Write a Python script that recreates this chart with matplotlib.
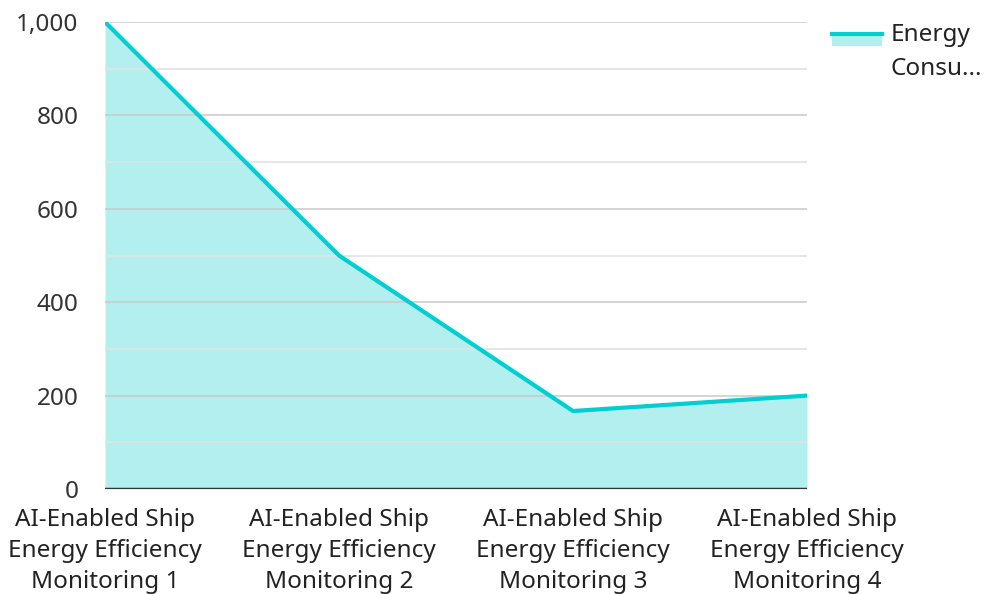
import matplotlib
matplotlib.use("Agg")
import matplotlib.pyplot as plt
from matplotlib.patches import Rectangle
from matplotlib.lines import Line2D

plt.rcParams['font.family'] = ['Noto Sans', 'Open Sans', 'DejaVu Sans']

categories = ["AI-Enabled Ship\nEnergy Efficiency\nMonitoring 1",
              "AI-Enabled Ship\nEnergy Efficiency\nMonitoring 2",
              "AI-Enabled Ship\nEnergy Efficiency\nMonitoring 3",
              "AI-Enabled Ship\nEnergy Efficiency\nMonitoring 4"]
energy = [1000, 500, 167, 200]
yticks = [0, 200, 400, 600, 800, 1000]
ytick_labels = ["0", "200", "400", "600", "800", "1,000"]

line_color = "#00CED1"
fill_color = "#B2EFEE"
FS = 17.5

W, H = 986, 594
fig = plt.figure(figsize=(W/100, H/100), dpi=100)
ax = fig.add_axes([105/W, 1-489/H, (807-105)/W, (489-22)/H])

x = list(range(len(categories)))
ax.fill_between(x, energy, 0, color=fill_color, lw=0, zorder=1)
ax.plot(x, energy, color=line_color, lw=3, zorder=3, solid_joinstyle='miter')

ax.set_xlim(0, len(categories)-1)
ax.set_ylim(0, 1000)
for v in range(100, 1001, 100):
    major = v % 200 == 0
    ax.axhline(v, color="#c8c8c8" if major else "#e2e2e2", lw=1.2, zorder=2, alpha=0.9 if major else 1)
ax.axhline(0, color="#333333", lw=2.5, zorder=4)

ax.set_yticks(yticks)
ax.set_yticklabels(ytick_labels, fontsize=FS, color="#333333")
ax.set_xticks(x)
ax.set_xticklabels(categories, fontsize=FS, color="#222222", linespacing=1.38)
ax.tick_params(axis='y', length=0, pad=19)
ax.tick_params(axis='x', length=0, pad=14)
for s in ax.spines.values():
    s.set_visible(False)

# legend
fig.add_artist(Rectangle((832/W, 1-46/H), 50/W, 13/H, transform=fig.transFigure,
                         facecolor=fill_color, edgecolor='none'))
fig.add_artist(Line2D([832/W, 882/W], [1-34/H, 1-34/H], transform=fig.transFigure,
                      color=line_color, lw=3))
fig.text(891/W, 1-35/H, "Energy", fontsize=FS, color="#222222", va='center', ha='left')
fig.text(891/W, 1-69/H, "Consu...", fontsize=FS, color="#222222", va='center', ha='left')

fig.savefig("out.png", dpi=100)
